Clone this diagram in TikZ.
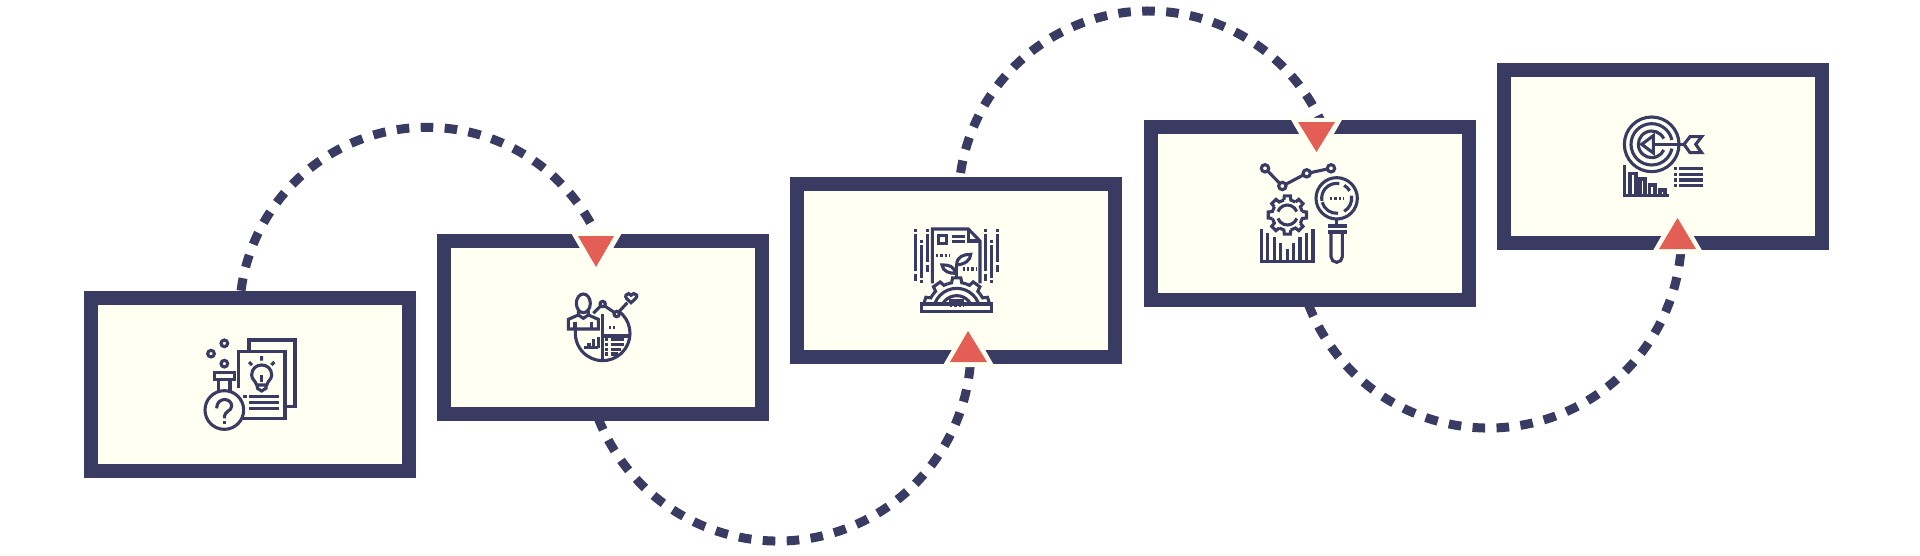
\documentclass[tikz,border=0pt]{standalone}
\usetikzlibrary{calc}
\definecolor{navy}{HTML}{3A3B63}
\definecolor{cream}{HTML}{FFFFF2}
\definecolor{coral}{HTML}{E35F56}
\tikzset{
 flowbox/.style={draw=navy,fill=cream,line width=7pt,minimum width=159pt,minimum height=86.5pt,inner sep=0pt,outer sep=0pt},
 link/.style={draw=navy,line width=4.5pt,dash pattern=on 6.3pt off 5.7pt},
 halo/.style={fill=cream},
 redmark/.style={fill=coral},
 ic/.style={draw=navy,line width=1.55pt,line join=miter},
 dotrow/.style={draw=navy,line width=1.55pt,dash pattern=on 1.2pt off 0.95pt},
 zoomed/.style={x=0.16667pt,y=-0.16667pt}
}
\begin{document}
\begin{tikzpicture}[x=0.5pt,y=-0.5pt]
\useasboundingbox (0,0) rectangle (1920,556);
% connectors
\coordinate (l1) at ([shift={(183:187.5)}]427,314.8);
\coordinate (l2) at ([shift={(160:193)}]778,348);
\coordinate (l3) at ([shift={(184:190)}]1148.5,201);
\coordinate (l4) at ([shift={(161:193)}]1488.5,235);
\draw[link,dash phase=4.8pt] (l1) arc[start angle=183,end angle=338,radius=187.5];
\draw[link,dash phase=9.75pt] (l2) arc[start angle=160,end angle=3,radius=193];
\draw[link,dash phase=4.55pt] (l3) arc[start angle=184,end angle=335,radius=190];
\draw[link,dash phase=8.4pt] (l4) arc[start angle=161,end angle=3,radius=193];
% boxes
\node[flowbox] (b1) at (250,384.5) {};
\node[flowbox] (b2) at (603,327.75) {};
\node[flowbox] (b3) at (956,270.25) {};
\node[flowbox] (b4) at (1309.5,213.25) {};
\node[flowbox] (b5) at (1663,156.5) {};
% markers
\fill[halo] (570,231) -- (623,231) -- (596.5,277) -- cycle;
\fill[redmark] (578,236) -- (614,236) -- (596,267) -- cycle;
\fill[halo] (1290,118) -- (1343,118) -- (1316.5,164) -- cycle;
\fill[redmark] (1298,122) -- (1335,122) -- (1316.5,152) -- cycle;
\fill[halo] (942,367) -- (995,367) -- (968.5,321) -- cycle;
\fill[redmark] (950,362) -- (987,362) -- (968,331) -- cycle;
\fill[halo] (1651,254) -- (1704,254) -- (1677.5,208) -- cycle;
\fill[redmark] (1659,249) -- (1696,249) -- (1677.5,218) -- cycle;
% icon 1
\begin{scope}[shift={(180,320)},zoomed]
\draw[ic] (207,95)--(207,60)--(345,60)--(345,260)--(315,260);
\draw[ic] (175,205)--(175,95)--(315,95)--(315,295)--(190,295);
\draw[ic] (133,70) circle[radius=10] (93,101) circle[radius=10] (133,131) circle[radius=10];
\draw[ic] (133,270) circle[radius=58];
\draw[ic] (115,180)--(115,215) (150,180)--(150,215);
\draw[ic] (103,157) rectangle (163,178);
\draw[ic] (110,265) .. controls (110,230) and (155,232) .. (155,258) .. controls (155,275) and (133,270) .. (133,295);
\draw[ic] (133,303)--(133,311);
\draw[ic] (230,195) .. controls (225,180) and (215,178) .. (215,165) .. controls (215,125) and (275,125) .. (275,165) .. controls (275,178) and (265,180) .. (260,195) -- cycle;
\draw[ic] (232,195)--(232,205)--(245,213)--(258,205)--(258,195);
\draw[ic] (245,165)--(245,185);
\draw[ic] (245,108)--(245,122) (207,126)--(216,135) (283,126)--(274,135);
\draw[ic] (208,230)--(298,230) (208,248)--(298,248) (208,266)--(298,266);
\draw[ic] (190,230)--(200,230);
\end{scope}
% icon 2
\begin{scope}[shift={(550,280)},zoomed]
\draw[ic] (158,160) ++(-55:82) arc[start angle=-55,end angle=187,radius=82];
\draw[ic] (100,70) ellipse[x radius=21,y radius=28];
\draw[ic] (85,92)--(85,105)--(55,118)--(55,147)--(145,147)--(145,118)--(115,105)--(115,92);
\draw[ic] (85,105)--(100,115)--(115,105);
\draw[ic] (75,125)--(75,147) (125,125)--(125,147);
\draw[ic] (130,100)--(152,78) (164,78)--(194,98) (205,97)--(232,68);
\draw[ic] (158,72) circle[radius=8] (200,102) circle[radius=8];
\draw[ic] (243,68) .. controls (232,58) and (224,52) .. (228,45) .. controls (232,38) and (240,40) .. (243,46) .. controls (246,40) and (256,38) .. (260,45) .. controls (263,52) and (254,58) .. (243,68) -- cycle;
\draw[ic] (158,102)--(158,243) (158,168)--(238,168);
\draw[dotrow] (176,143)--(198,143);
\draw[ic] (103,203)--(145,203) (117,203)--(117,190) (131,203)--(131,178) (145,203)--(145,170);
\draw[ic] (166,178)--(175,178) (182,178)--(222,178);
\draw[ic] (166,193)--(175,193) (182,193)--(222,193);
\draw[ic] (166,208)--(175,208) (182,208)--(212,208);
\draw[ic] (166,222)--(175,222) (182,222)--(205,222);
\end{scope}
% icon 3
\begin{scope}[shift={(900,215)},zoomed]
\draw[ic] (97,205)--(97,42)--(205,42)--(240,78)--(240,205);
\draw[ic] (205,42)--(205,78)--(240,78);
\draw[ic] (116,62) rectangle (140,86);
\draw[ic] (155,65)--(195,65) (155,80)--(195,80);
\draw[dotrow] (108,122)--(150,122);
\draw[dotrow] (188,162)--(228,162);
\draw[ic] (170,185)--(170,150);
\draw[ic] (170,150) .. controls (170,125) and (190,118) .. (212,118) .. controls (212,135) and (195,148) .. (170,150) -- cycle;
\draw[ic] (165,175) .. controls (150,175) and (128,170) .. (126,150) .. controls (145,148) and (165,155) .. (165,175) -- cycle;
\begin{scope}[shift={(170,290)}]
\foreach \a in {198,234,270,306,342}{
 \draw[ic] (\a-18:88)--(\a-10:88)--(\a-7:102)--(\a+7:102)--(\a+10:88)--(\a+18:88);}
\draw[ic] (180:70) arc[start angle=180,end angle=360,radius=70];
\draw[ic] (180:48) arc[start angle=180,end angle=360,radius=48];
\end{scope}
\draw[ic,fill=cream] (65,267) rectangle (275,290);
\draw[ic] (148,257)--(192,257);
\draw[dotrow] (150,272)--(192,272);
\foreach \x/\ya/\yb/\yc/\yd in {47/42/52/58/168, 64/75/85/90/190, 82/42/50/58/140, 256/42/50/58/168, 274/75/85/90/190, 292/42/50/58/140}{
 \draw[ic] (\x,\ya)--(\x,\yb) (\x,\yc)--(\x,\yd);}
\draw[ic] (47,178)--(47,198) (64,196)--(64,205) (82,150)--(82,170) (256,178)--(256,198) (274,196)--(274,205) (292,150)--(292,170);
\end{scope}
% icon 4
\begin{scope}[shift={(1245,150)},zoomed]
\draw[ic] (60,55) circle[radius=11] (112,108) circle[radius=11] (185,70) circle[radius=11] (258,55) circle[radius=11];
\draw[ic] (68,63)--(104,100) (122,103)--(175,75) (196,68)--(247,57);
\begin{scope}[shift={(127,195)}]
\foreach \a in {0,45,...,315}{
 \draw[ic] (\a-13:46)--(\a-9:58)--(\a+9:58)--(\a+13:46)--(\a+32:46);}
\draw[ic] (20:30) arc[start angle=20,end angle=160,radius=30];
\draw[ic] (200:30) arc[start angle=200,end angle=340,radius=30];
\end{scope}
\foreach \x/\y in {50/238,68/250,88/262,107/280,127/297,146/280,165/262,185/250,204/238}{
 \draw[ic] (\x,\y)--(\x,335);}
\draw[ic] (45,335)--(210,335);
\draw[ic] (275,145) circle[radius=62];
\begin{scope}[shift={(275,145)}]
\draw[ic] (-10:45) arc[start angle=-10,end angle=60,radius=45];
\draw[ic] (-60:45) arc[start angle=-60,end angle=-30,radius=45];
\draw[ic] (-80:45) arc[start angle=-80,end angle=-190,radius=45];
\draw[ic] (165:45) arc[start angle=165,end angle=85,radius=45];
\end{scope}
\draw[dotrow] (255,145)--(298,145);
\draw[ic] (275,207)--(275,226);
\draw[ic] (248,228)--(305,228) (248,246)--(305,246);
\draw[ic] (258,246)--(258,320) arc[start angle=180,end angle=0,radius=17] -- (292,246);
\end{scope}
% icon 5
\begin{scope}[shift={(1610,105)},zoomed]
\draw[ic] (125,118) circle[radius=82];
\draw[ic] (125,118) ++(-12:62) arc[start angle=-12,end angle=-348,radius=62];
\draw[ic] (125,118) ++(-25:40) arc[start angle=-25,end angle=-335,radius=40];
\draw[ic,fill=cream] (95,118)--(130,92)--(130,144)--cycle;
\draw[ic] (130,118)--(226,118);
\draw[ic,fill=cream] (222,118)--(240,95)--(275,95)--(257,118)--(275,143)--(240,143)--cycle;
\draw[ic] (43,180)--(43,272)--(178,272);
\draw[ic] (60,272)--(60,206)--(78,206)--(78,272);
\draw[ic] (90,272)--(90,222)--(105,222)--(105,272);
\draw[ic] (118,272)--(118,240)--(135,240)--(135,272);
\draw[ic] (150,272)--(150,255)--(165,255)--(165,272);
\foreach \y in {190,208,225,242}{
 \draw[ic] (192,\y)--(200,\y) (208,\y)--(280,\y);}
\end{scope}
\end{tikzpicture}
\end{document}
